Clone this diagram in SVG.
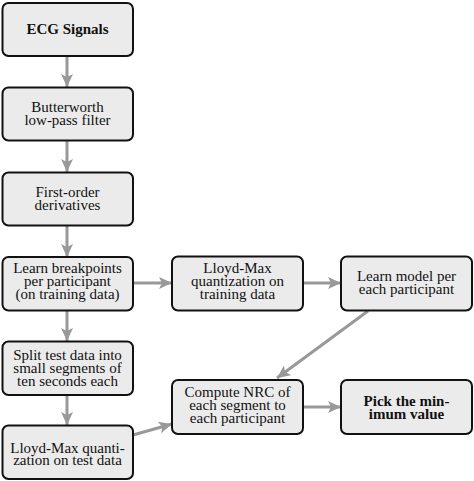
<svg xmlns="http://www.w3.org/2000/svg" width="474" height="481" viewBox="0 0 474 481">
<style>
.box{fill:#ebebeb;stroke:#111;stroke-width:2}
.t{font-family:'Liberation Serif','Times New Roman',serif;font-size:15px;fill:#111;text-anchor:middle}
.b{font-weight:bold}
.c{stroke:#999;stroke-width:3;fill:none}
</style>
<defs>
<marker id="ah" markerUnits="userSpaceOnUse" markerWidth="14" markerHeight="14" viewBox="0 0 14 14" refX="13" refY="7" orient="auto">
<path d="M0,1 L13,7 L0,13 L3,7 Z" fill="#999"/>
</marker>
</defs>
<rect width="474" height="481" fill="#fff"/>
<g id="connectors">
<line class="c" x1="67" y1="56" x2="67" y2="87" marker-end="url(#ah)"/>
<line class="c" x1="67" y1="141" x2="67" y2="172" marker-end="url(#ah)"/>
<line class="c" x1="67" y1="226" x2="67" y2="257" marker-end="url(#ah)"/>
<line class="c" x1="67" y1="311" x2="67" y2="341" marker-end="url(#ah)"/>
<line class="c" x1="67" y1="395" x2="67" y2="425" marker-end="url(#ah)"/>
<line class="c" x1="133" y1="283" x2="172" y2="283" marker-end="url(#ah)"/>
<line class="c" x1="303" y1="283" x2="341" y2="283" marker-end="url(#ah)"/>
<line class="c" x1="368" y1="311" x2="277" y2="378" marker-end="url(#ah)"/>
<line class="c" x1="133" y1="435" x2="172" y2="424" marker-end="url(#ah)"/>
<line class="c" x1="303" y1="407" x2="341" y2="407" marker-end="url(#ah)"/>
</g>
<g id="n1"><rect class="box" x="2.5" y="3" width="130.5" height="53" rx="6"/><text class="t b" x="67.5" y="34">ECG Signals</text></g>
<g id="n2"><rect class="box" x="2.5" y="87.5" width="130.5" height="53" rx="6"/><text class="t" x="67.5" y="112">Butterworth</text><text class="t" x="67.5" y="124.5">low-pass filter</text></g>
<g id="n3"><rect class="box" x="2.5" y="172.5" width="130.5" height="53" rx="6"/><text class="t" x="67.5" y="197">First-order</text><text class="t" x="67.5" y="209.5">derivatives</text></g>
<g id="n4"><rect class="box" x="2.5" y="257" width="130.5" height="53.5" rx="6"/><text class="t" x="67.5" y="273">Learn breakpoints</text><text class="t" x="67.5" y="286">per participant</text><text class="t" x="67.5" y="299">(on training data)</text></g>
<g id="n5"><rect class="box" x="2.5" y="341.5" width="130.5" height="53.5" rx="6"/><text class="t" x="67.5" y="360">Split test data into</text><text class="t" x="67.5" y="373">small segments of</text><text class="t" x="67.5" y="386">ten seconds each</text></g>
<g id="n6"><rect class="box" x="2.5" y="425.5" width="130.5" height="53.5" rx="6"/><text class="t" x="67.5" y="452.5">Lloyd-Max quanti-</text><text class="t" x="67.5" y="465">zation on test data</text></g>
<g id="n7"><rect class="box" x="172" y="256.5" width="131" height="54" rx="6"/><text class="t" x="237.5" y="273">Lloyd-Max</text><text class="t" x="237.5" y="286">quantization on</text><text class="t" x="237.5" y="299">training data</text></g>
<g id="n8"><rect class="box" x="341" y="256.5" width="131" height="54" rx="6"/><text class="t" x="406.5" y="281">Learn model per</text><text class="t" x="406.5" y="293.5">each participant</text></g>
<g id="n9"><rect class="box" x="172" y="380" width="131" height="54" rx="6"/><text class="t" x="237.5" y="397">Compute NRC of</text><text class="t" x="237.5" y="410">each segment to</text><text class="t" x="237.5" y="423">each participant</text></g>
<g id="n10"><rect class="box" x="341" y="380" width="131" height="54" rx="6"/><text class="t b" x="406.5" y="406">Pick the min-</text><text class="t b" x="406.5" y="418.5">imum value</text></g>
</svg>
